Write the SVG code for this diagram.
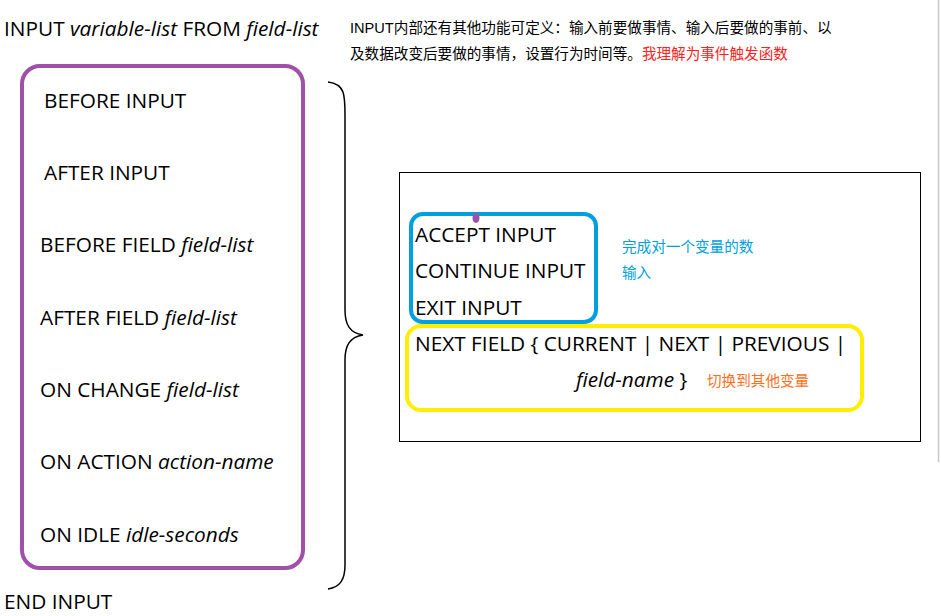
<svg xmlns="http://www.w3.org/2000/svg" width="941" height="616" viewBox="0 0 941 616">
<style>
.t{font-family:"Open Sans","Liberation Sans",sans-serif;font-size:20.8px;fill:#000}
.c{font-family:"Liberation Sans","Noto Sans CJK SC",sans-serif;font-size:14.6px}
.i{font-style:italic}
</style>
<rect width="941" height="616" fill="#fff"/>
<line x1="938.5" y1="0" x2="938.5" y2="462" stroke="#c8c8c8" stroke-width="1.5"/>
<g id="title"><text class="t" x="4" y="36">INPUT <tspan class="i">variable-list</tspan> FROM <tspan class="i">field-list</tspan></text></g>
<g id="note"><text class="c" x="350" y="33" fill="#000">INPUT内部还有其他功能可定义：输入前要做事情、输入后要做的事前、以</text>
<text class="c" x="350" y="59" fill="#000">及数据改变后要做的事情，设置行为时间等。<tspan fill="#ff2020">我理解为事件触发函数</tspan></text></g>
<g id="events">
<rect x="22" y="66" width="281" height="502" rx="18" fill="none" stroke="#a050a8" stroke-width="4"/>
<text class="t" x="44" y="108">BEFORE INPUT</text>
<text class="t" x="44" y="180">AFTER INPUT</text>
<text class="t" x="40" y="252">BEFORE FIELD <tspan class="i">field-list</tspan></text>
<text class="t" x="40" y="325">AFTER FIELD <tspan class="i">field-list</tspan></text>
<text class="t" x="40" y="397">ON CHANGE <tspan class="i">field-list</tspan></text>
<text class="t" x="40" y="469">ON ACTION <tspan class="i">action-name</tspan></text>
<text class="t" x="40" y="542">ON IDLE <tspan class="i">idle-seconds</tspan></text>
</g>
<g id="connectors"><path d="M328 82 C345 84 345 95 345 115 L345 310 C345 325 350 333 363 335 C350 337 345 345 345 360 L345 565 C345 580 340 587 328 589" fill="none" stroke="#000" stroke-width="1.5"/></g>
<g id="actions">
<rect x="399.5" y="172.5" width="521" height="269" fill="none" stroke="#000" stroke-width="1"/>
<rect x="411" y="214" width="185" height="108" rx="12" fill="none" stroke="#00a0e0" stroke-width="4"/>
<ellipse cx="476" cy="218" rx="3.5" ry="5" fill="#a050a8"/>
<text class="t" x="415" y="242">ACCEPT INPUT</text>
<text class="t" x="415" y="278">CONTINUE INPUT</text>
<text class="t" x="415" y="315">EXIT INPUT</text>
<text class="c" x="622" y="252" fill="#00a0e0">完成对一个变量的数</text>
<text class="c" x="622" y="278" fill="#00a0e0">输入</text>
<rect x="407" y="326" width="455" height="84" rx="14" fill="none" stroke="#ffee00" stroke-width="4"/>
<text class="t" x="415" y="351">NEXT FIELD { CURRENT | NEXT | PREVIOUS |</text>
<text class="t" x="576" y="387"><tspan class="i">field-name</tspan> }</text>
<text class="c" x="707" y="386" fill="#ff7020">切换到其他变量</text>
</g>
<g id="end"><text class="t" x="4" y="609">END INPUT</text></g>
</svg>
